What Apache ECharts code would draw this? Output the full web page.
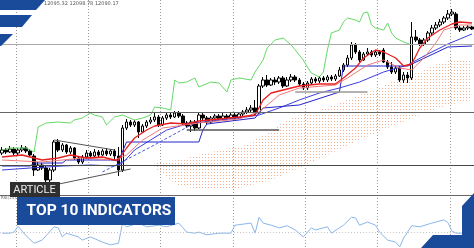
<!DOCTYPE html>
<html><head><meta charset="utf-8">
<script src="https://cdn.jsdelivr.net/npm/echarts@6/dist/echarts.min.js"></script>
<style>html,body{margin:0;padding:0;background:#fff}#c{width:474px;height:248px}</style>
</head><body><div id="c"></div>
<script>
// candles: [open, close, low, high]
const ohlc = [
[47,50,45,53],[50,48,46,52],[48,51,47,54],[51,47,45,53],[47,50,44,52],[50,52,48,55],[52,49,47,54],[49,45,43,51],
[44,30,24,46],[30,35,29,38],[35,32,30,37],[32,20,17,34],[20,30,18,32],[30,58,28,60],[58,50,48,61],[50,55,48,57],
[55,48,46,56],[48,52,46,54],[52,42,40,53],[42,38,36,44],[38,43,36,45],[43,47,41,50],[47,44,42,49],[44,48,43,51],
[48,45,43,50],[45,49,44,51],[49,46,44,52],[46,49,44,51],[49,44,40,51],[44,30,24,53],[30,72,28,75],[72,78,70,81],
[78,75,73,80],[75,78,73,80],[78,68,62,79],[68,74,67,76],[74,78,72,80],[78,80,76,83],[80,83,78,87],[83,75,73,85],
[75,82,74,84],[82,85,80,88],[85,83,81,87],[83,87,82,89],[87,84,82,89],[84,77,75,86],[77,74,72,79],[74,78,68,80],
[78,72,69,80],[72,85,71,88],[85,82,80,87],[82,78,75,84],[78,82,77,84],[82,84,80,86],[84,81,79,86],[81,84,80,87],
[84,82,80,86],[82,85,81,87],[85,82,80,87],[82,86,81,88],[86,88,84,90],[88,90,86,93],[90,92,88,95],[92,87,85,100],
[87,114,86,116],[114,120,112,123],[120,115,113,125],[115,120,114,122],[120,118,115,123],[118,122,116,124],[122,114,112,124],[114,120,113,123],
[120,123,118,126],[123,120,118,125],[120,116,114,122],[116,112,110,118],[112,117,110,119],[117,121,116,123],[121,119,117,123],[119,122,117,124],
[122,120,118,124],[120,123,118,125],[123,121,119,125],[121,124,119,126],[124,130,123,133],[130,135,128,137],[135,142,133,145],[142,155,140,158],
[155,148,146,157],[148,140,138,150],[140,146,139,148],[146,148,144,152],[148,145,143,150],[145,148,143,150],[148,146,144,150],[150,138,137,152],
[138,133,131,140],[133,128,126,138],[128,132,126,134],[132,120,118,134],[120,125,117,128],[125,122,117,128],[122,163,120,178],[163,160,158,170],
[160,156,154,162],[156,160,154,162],[160,167,158,169],[167,172,165,175],[172,175,170,178],[175,178,173,181],[178,182,176,184],[182,186,180,190],
[186,188,184,191],[186,172,170,188],[172,170,168,174],[170,172,169,174],[172,173,170,175],[173,171,170,174]
];
// indicator lines: [bar index, price]
const green = [[0,50],[2,52],[6,52],[8,48],[9,73],[11,77],[14,78],[17,77],[18,80],[20,82],[22,87],[23,85],[25,83],[26,75],[28,83],[30,85],[33,80],[35,82],[37,85],[38,93],[40,92],[42,90],[43,120],[44,117],[46,118],[48,122],[49,113],[52,118],[54,117],[56,108],[57,120],[59,122],[62,120],[63,128],[65,140],[66,152],[68,160],[70,162],[72,155],[73,150],[75,140],[76,133],[77,127],[79,123],[80,128],[81,150],[82,167],[84,170],[85,178],[86,182],[88,180],[89,178],[90,187],[91,188],[92,175],[93,172],[95,170],[96,177],[97,167],[98,162],[100,158],[102,155]];
const redFast = [[0,43],[5,45],[10,40],[14,42],[17,45],[21,42],[25,43],[28,40],[29,40],[31,52],[33,62],[36,70],[38,74],[42,77],[46,76],[49,79],[54,81],[59,83],[63,85],[65,100],[67,107],[70,110],[74,114],[79,116],[83,116],[85,122],[88,132],[90,142],[93,150],[95,148],[98,142],[100,134],[102,136],[104,152],[106,162],[109,170],[112,176],[114,178],[117,177]];
const redSlow = [[0,40],[10,38],[20,42],[28,40],[31,45],[35,60],[40,72],[49,77],[59,81],[64,88],[69,105],[74,112],[83,115],[86,122],[91,135],[95,140],[99,132],[102,130],[105,142],[108,157],[110,170],[114,175],[117,175]];
const blueMA = [[0,30],[7,32],[15,34],[22,35],[28,34],[30,37],[33,50],[37,60],[41,70],[46,76],[52,79],[59,82],[64,85],[69,92],[74,100],[79,107],[84,112],[89,118],[95,128],[101,135],[106,146],[111,156],[117,166]];
const blueKijun = [[0,34],[7,34],[8,37],[15,37],[16,40],[27,40],[29,39],[31,58],[49,58],[50,70],[51,76],[63,82],[65,92],[74,95],[84,108],[85,134],[95,134],[101,134],[111,153],[117,154]];
const blueDashed = [[25,28],[37,53],[48,77]];
const cloudUpper = [[38,38],[44,40],[52,48],[57,52],[61,55],[64,63],[67,68],[70,78],[72,82],[76,87],[79,90],[84,97],[89,105],[93,110],[99,122],[104,128],[109,137],[112,140],[117,140]];
const cloudLower = [[38,32],[44,14],[52,10],[59,12],[67,20],[74,32],[81,45],[89,60],[96,72],[104,85],[111,95],[117,100]];
const rsi = [[0,28],[2,28],[3,30],[4,41],[6,23],[8,9],[10,15],[13,40],[14,38],[15,21],[16,28],[19,21],[20,15],[22,21],[25,11],[27,6],[29,9],[30,47],[31,40],[34,47],[36,40],[39,43],[41,40],[44,47],[46,30],[48,28],[49,30],[51,25],[54,28],[57,28],[58,43],[62,47],[63,28],[64,58],[65,47],[67,43],[69,38],[71,42],[73,34],[75,21],[77,38],[78,34],[81,40],[82,28],[85,43],[87,58],[88,57],[89,43],[91,49],[93,43],[94,30],[96,15],[98,11],[99,2],[100,19],[102,42],[104,40],[107,47],[110,53],[111,48],[112,32],[113,28],[115,28],[117,28]];
const rsiLevel = 30;
const fullLines = [156, 88, 35];
const segLines = [[[46,70],[69,70]],[[73,108],[91,108]],[[13,60],[28,50]],[[13,15],[32,31]]];
const headerText = '12095.32 12098.78 12090.17';
const categories = ohlc.map((d, i) => 'b' + i);

const BLUE = '#1a4b9b';
const pc = document.createElement('canvas'); pc.width = 3; pc.height = 3;
const g = pc.getContext('2d'); g.fillStyle = '#f3b08f'; g.fillRect(1, 1, 1, 1);

const chart = echarts.init(document.getElementById('c'), null, {renderer: 'canvas'});
const split = {show: true, interval: (i) => (i - 4) % 18 === 0, lineStyle: {color: '#9a9a9a', type: [1, 2], width: 1}};
function line(data, color, width, type, z) {
  return {type: 'line', data, symbol: 'none', z: z || 4, lineStyle: {color, width, type: type || 'solid'}, silent: true, animation: false};
}
const fullStyles = [{color: '#aaaaaa', width: 1}, {color: '#666666', width: 1}, {color: '#4a4a4a', width: 1}];
const segStyles = [{color: '#555', width: 1.5}, {color: '#9a9a9a', width: 1.5}, {color: '#555', width: 1}, {color: '#555', width: 1}];

chart.setOption({
  animation: false,
  backgroundColor: '#fff',
  grid: [{left: -2, right: -2, top: 0, bottom: 53}, {left: -2, right: -2, top: 195, bottom: 0}],
  xAxis: [
    {type: 'category', data: categories, gridIndex: 0, boundaryGap: true, axisLabel: {show: false}, axisTick: {show: false},
     axisLine: {show: true, onZero: false, lineStyle: {color: '#666', width: 1}}, splitLine: split},
    {type: 'category', data: categories, gridIndex: 1, boundaryGap: true, axisLabel: {show: false}, axisTick: {show: false},
     axisLine: {show: false}, splitLine: split}
  ],
  yAxis: [
    {type: 'value', gridIndex: 0, min: 5, max: 200, axisLabel: {show: false}, axisLine: {show: false}, axisTick: {show: false}, splitLine: {show: false}},
    {type: 'value', gridIndex: 1, min: 0, max: 100, axisLabel: {show: false}, axisLine: {show: false}, axisTick: {show: false}, splitLine: {show: false}}
  ],
  series: [
    {type: 'custom', z: 1, silent: true, data: [0], renderItem: (params, api) => {
      const pts = cloudUpper.map(p => api.coord(p)).concat(cloudLower.slice().reverse().map(p => api.coord(p)));
      return {type: 'polygon', shape: {points: pts}, style: {fill: {image: pc, repeat: 'repeat'}}};
    }},
    {type: 'candlestick', data: ohlc, barWidth: 3, z: 3, silent: true,
     itemStyle: {color: '#ffffff', color0: '#000000', borderColor: '#000000', borderColor0: '#000000', borderWidth: 1},
     markLine: {silent: true, symbol: ['none', 'none'], label: {show: false}, animation: false,
       data: fullLines.map((v, k) => ({yAxis: v, lineStyle: Object.assign({type: 'solid'}, fullStyles[k])}))
         .concat(segLines.map((s, k) => [{coord: s[0], lineStyle: Object.assign({type: 'solid'}, segStyles[k])}, {coord: s[1]}]))}},
    line(green, '#66d966', 1),
    line(blueMA, '#3d3de0', 1),
    line(blueKijun, '#2424c8', 1),
    line(blueDashed, '#4a5ad8', 1, [3, 2]),
    line(redSlow, '#f07a7a', 1),
    line(redFast, '#e82020', 1.3),
    {type: 'line', xAxisIndex: 1, yAxisIndex: 1, data: rsi, symbol: 'none', silent: true, lineStyle: {color: '#8ab6ea', width: 1},
     markLine: {silent: true, symbol: ['none', 'none'], label: {show: false}, animation: false,
       data: [{yAxis: rsiLevel, lineStyle: {color: '#c8c8c8', type: [1, 2], width: 1}}]}}
  ],
  graphic: [
    {type: 'polygon', z: 100, shape: {points: [[0,0],[45,0],[36,10],[0,10]]}, style: {fill: BLUE}},
    {type: 'polygon', z: 100, shape: {points: [[0,15],[32,15],[22,27],[0,27]]}, style: {fill: BLUE}},
    {type: 'polygon', z: 100, shape: {points: [[0,34],[13,34],[1,46],[0,46]]}, style: {fill: BLUE}},
    {type: 'text', z: 100, x: 44, y: 1, style: {text: headerText, fontSize: 5, fill: '#555', fontFamily: 'DejaVu Sans'}},
    {type: 'text', z: 100, x: 1, y: 196, style: {text: 'RSI(14) 29.04', fontSize: 4, fill: '#666', fontFamily: 'DejaVu Sans'}},
    {type: 'rect', z: 100, shape: {x: 10, y: 182, width: 50, height: 15}, style: {fill: '#2f2f2f'}},
    {type: 'text', z: 101, x: 34.5, y: 190, style: {text: 'ARTICLE', fill: '#ececec', fontSize: 11, fontFamily: 'Roboto', align: 'center', verticalAlign: 'middle'}},
    {type: 'rect', z: 100, shape: {x: 17, y: 197, width: 158, height: 28}, style: {fill: BLUE}},
    {type: 'text', z: 101, x: 99, y: 211.5, style: {text: 'TOP 10 INDICATORS', fill: '#ffffff', fontSize: 15.5, fontWeight: 'bold', fontFamily: 'Roboto', align: 'center', verticalAlign: 'middle'}},
    {type: 'polygon', z: 100, shape: {points: [[474,193],[462,206],[462,235],[433,235],[421,248],[474,248]]}, style: {fill: BLUE}}
  ]
});
</script></body></html>
